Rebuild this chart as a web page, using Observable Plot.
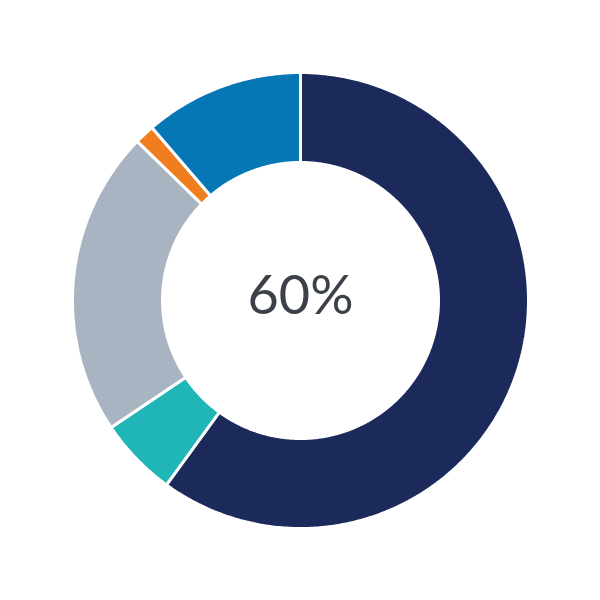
<!DOCTYPE html>
<html>
<head>
<meta charset="utf-8">
<script src="https://cdn.jsdelivr.net/npm/d3@7"></script>
<script src="https://cdn.jsdelivr.net/npm/@observablehq/plot@0.6"></script>
<style>
  html, body { margin: 0; padding: 0; background: #ffffff; }
  #chart { width: 600px; height: 600px; }
</style>
</head>
<body>
<div id="chart"></div>
<script>
// Data
const categories = ["A", "B", "C", "D", "E"];
const values = [60, 5.6, 21.7, 1.4, 11.3];
const colors = ["#1b2a5b", "#20b5b6", "#a9b4c2", "#f07d1e", "#0577b5"];
const centerLabel = "60%";

const outerR = 228;
const innerR = 138;

const pie = d3.pie().sort(null).value(d => d.value);
const arcs = pie(categories.map((c, i) => ({category: c, value: values[i]})));

// Build polygon points for each slice (angles clockwise from top)
const pts = [];
for (const a of arcs) {
  const n = Math.max(4, Math.ceil((a.endAngle - a.startAngle) / 0.01));
  const ring = [];
  for (let k = 0; k <= n; k++) {
    const t = a.startAngle + (a.endAngle - a.startAngle) * k / n;
    ring.push({category: a.data.category, x: outerR * Math.sin(t), y: outerR * Math.cos(t)});
  }
  for (let k = n; k >= 0; k--) {
    const t = a.startAngle + (a.endAngle - a.startAngle) * k / n;
    ring.push({category: a.data.category, x: innerR * Math.sin(t), y: innerR * Math.cos(t)});
  }
  pts.push(...ring);
}

const chart = Plot.plot({
  width: 600,
  height: 600,
  margin: 0,
  x: {domain: [-300, 300], axis: null},
  y: {domain: [-300, 300], axis: null},
  color: {domain: categories, range: colors},
  marks: [
    Plot.line(pts, {
      x: "x", y: "y", z: "category",
      fill: "category",
      stroke: "#ffffff",
      strokeWidth: 3,
      strokeLinejoin: "miter",
      curve: "linear-closed"
    }),
    Plot.text([centerLabel], {
      x: () => 0, y: () => 0,
      text: d => d,
      fontSize: 54,
      fontFamily: "Lato",
      fontWeight: 400,
      fill: "#3b4049",
      dy: -4
    })
  ]
});
document.getElementById("chart").appendChild(chart);
</script>
</body>
</html>
